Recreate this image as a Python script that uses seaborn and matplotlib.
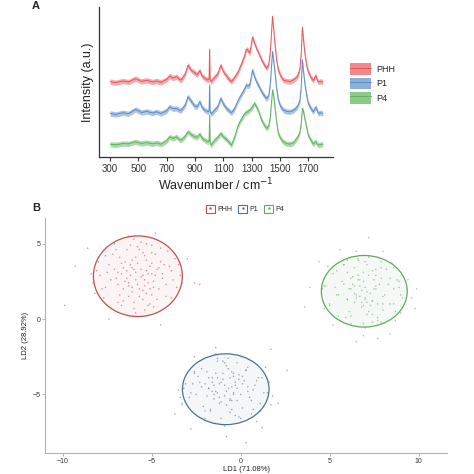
import numpy as np
import pandas as pd
import matplotlib
matplotlib.use("Agg")
import matplotlib.pyplot as plt
import seaborn as sns
from matplotlib.patches import Ellipse, Patch
from matplotlib.lines import Line2D

# ---- data ----
groups = ["PHH", "P1", "P4"]

wavenumber = [300, 340, 390, 430, 480, 520, 560, 600, 626, 660,
              700, 720, 745, 768, 790, 803, 830, 850, 875, 897,
              915, 933, 950, 968, 990, 999, 1003, 1007, 1013, 1039,
              1060, 1082, 1100, 1122, 1140, 1157, 1180, 1205, 1230, 1252,
              1262, 1271, 1287, 1306, 1320, 1334, 1350, 1370, 1390, 1405,
              1420, 1432, 1447, 1456, 1464, 1476, 1488, 1505, 1523, 1545,
              1571, 1595, 1618, 1632, 1641, 1650, 1658, 1666, 1677, 1690,
              1700, 1718, 1736, 1748, 1755, 1763, 1771, 1785, 1802]

phh_int = [2.25, 2.22, 2.27, 2.24, 2.34, 2.26, 2.29, 2.24, 2.27, 2.23,
           2.32, 2.42, 2.36, 2.40, 2.32, 2.30, 2.48, 2.74, 2.58, 2.52,
           2.46, 2.58, 2.42, 2.35, 2.30, 2.32, 3.22, 2.30, 2.25, 2.38,
           2.48, 2.74, 2.55, 2.42, 2.32, 2.25, 2.38, 2.55, 2.80, 3.05,
           3.22, 3.20, 3.10, 3.58, 3.40, 3.25, 3.10, 2.90, 2.75, 2.65,
           2.75, 3.15, 4.20, 3.80, 3.40, 2.90, 2.60, 2.42, 2.30, 2.27,
           2.25, 2.30, 2.38, 2.50, 2.65, 3.10, 3.88, 3.50, 3.05, 2.70,
           2.55, 2.38, 2.28, 2.40, 2.42, 2.30, 2.24, 2.26, 2.24]

p1_int = [1.30, 1.27, 1.32, 1.29, 1.42, 1.33, 1.36, 1.31, 1.35, 1.30,
          1.38, 1.50, 1.44, 1.45, 1.39, 1.40, 1.55, 1.80, 1.65, 1.52,
          1.50, 1.65, 1.48, 1.40, 1.35, 1.37, 2.15, 1.36, 1.28, 1.40,
          1.50, 1.75, 1.58, 1.45, 1.38, 1.32, 1.45, 1.70, 1.88, 2.05,
          2.15, 2.12, 2.15, 2.60, 2.40, 2.25, 2.12, 1.95, 1.82, 1.75,
          1.82, 2.20, 3.15, 2.85, 2.55, 2.05, 1.70, 1.50, 1.40, 1.36,
          1.35, 1.39, 1.48, 1.58, 1.70, 2.10, 2.90, 2.55, 2.15, 1.80,
          1.60, 1.45, 1.35, 1.46, 1.48, 1.38, 1.30, 1.32, 1.30]

p4_int = [0.38, 0.36, 0.40, 0.39, 0.45, 0.40, 0.43, 0.39, 0.42, 0.38,
          0.48, 0.60, 0.55, 0.60, 0.52, 0.50, 0.62, 0.75, 0.66, 0.60,
          0.58, 0.68, 0.56, 0.50, 0.45, 0.46, 1.25, 0.44, 0.35, 0.50,
          0.58, 0.70, 0.60, 0.52, 0.44, 0.35, 0.60, 0.95, 1.15, 1.30,
          1.33, 1.35, 1.40, 1.50, 1.60, 1.50, 1.35, 1.10, 0.95, 0.85,
          0.92, 1.20, 2.00, 1.80, 1.50, 1.05, 0.70, 0.55, 0.45, 0.40,
          0.38, 0.42, 0.55, 0.65, 0.75, 1.00, 1.45, 1.35, 1.10, 0.85,
          0.65, 0.50, 0.38, 0.45, 0.45, 0.38, 0.35, 0.37, 0.38]

band_sd = [0.08, 0.08, 0.08]

# LDA scores (estimated)
phh_ld1 = [-5.9, -5.4, -6.3, -5.1, -6.6, -5.7, -4.8, -6.1, -5.3, -7.0, -4.5, -6.8, -5.5, -4.2, -7.4,
           -6.0, -5.0, -7.6, -3.9, -6.4, -4.7, -7.2, -5.6, -6.2, -5.2, -5.8, -4.9, -6.5, -5.0, -6.9,
           -4.4, -7.9, -3.6, -8.0, -5.4, -6.7, -3.7, -4.1, -7.7, -6.0, -5.3, -8.3, -3.4, -5.9, -6.1,
           -5.5, -4.6, -6.6, -2.6, -9.3, -9.9, -7.4, -4.5, -2.3, -4.8, -8.6, -3.0, -7.1, -6.3, -5.1,
           -5.6, -6.0, -5.2, -6.4, -5.8, -5.0, -6.2, -5.5, -6.7, -4.9, -5.9, -6.3, -5.3, -5.7, -6.1,
           -4.7, -6.9, -5.4, -5.1, -6.5, -4.4, -7.1, -5.8, -6.6, -4.8, -5.0, -6.0, -7.3, -4.3, -5.6,
           -6.8, -5.2, -4.6, -7.5, -3.8, -6.2, -5.5, -4.0, -7.8, -5.9, -6.4, -3.5, -8.1, -5.7, -4.9,
           -6.9, -3.3, -8.4, -5.3, -6.1, -4.2, -7.0, -5.0, -6.7, -4.5, -7.6, -3.9, -5.4, -8.2, -6.3]
phh_ld2 = [3.1, 2.6, 2.2, 3.5, 3.4, 2.0, 2.9, 3.9, 1.7, 2.7, 3.8, 1.6, 4.4, 2.3, 3.6,
           1.1, 4.9, 2.1, 3.2, 4.6, 1.3, 4.3, 3.3, 2.9, 2.4, 3.7, 2.1, 2.5, 3.0, 3.1,
           2.7, 2.9, 2.1, 3.8, 0.6, 0.9, 4.0, 4.5, 1.4, 5.3, 5.0, 2.4, 2.9, 2.6, 3.4,
           2.9, 3.4, 2.0, 2.4, 3.5, 0.9, 0.0, -0.4, 2.3, 5.7, 4.7, 4.0, 5.0, 1.5, 1.0,
           2.8, 3.3, 3.0, 2.7, 2.3, 3.7, 3.6, 1.9, 3.0, 2.5, 4.1, 2.4, 3.9, 1.5, 2.1,
           3.3, 2.3, 4.2, 2.0, 3.8, 3.0, 3.3, 4.8, 1.2, 4.3, 1.6, 0.7, 2.6, 3.6, 5.1,
           4.1, 0.9, 2.0, 3.1, 2.6, 4.9, 1.3, 3.5, 2.0, 0.4, 3.2, 3.6, 3.2, 4.6, 0.8,
           1.1, 2.4, 3.0, 3.2, 1.8, 1.5, 4.6, 4.4, 3.7, 4.7, 4.2, 1.4, 2.2, 1.7, 5.5]

p1_ld1 = [-0.9, -0.4, -1.3, -0.6, -1.6, -0.2, -1.1, 0.2, -1.9, -0.7, 0.5, -2.2, -0.5, 0.8, -1.4,
          -2.4, 0.3, -1.7, 1.1, -0.1, -2.8, 1.2, -1.0, -2.1, 0.6, -0.8, -1.2, -0.3, -1.5, 0.0,
          -0.6, -1.8, 0.4, -2.6, 1.5, -3.1, 1.4, -1.3, -2.0, -0.2, 0.9, -3.3, 1.7, -0.9, -1.0,
          -0.5, -1.6, 0.1, 2.6, -3.7, -0.8, 0.3, -2.6, -3.4, 1.7, 2.1, -1.4, -2.8, 1.2, -0.4,
          -0.7, -1.1, -0.3, -1.4, -0.9, -0.1, -1.3, -0.6, -1.8, 0.1, -1.0, -1.5, -0.4, -0.8, -1.2,
          0.4, -2.0, -0.5, -0.2, -1.6, 0.7, -2.3, -0.9, -1.7, 0.3, 0.1, -1.1, -2.5, 0.9, -0.7,
          -1.9, -0.3, 0.6, -2.7, 1.3, -1.3, -0.6, 1.0, -2.9, -1.0, -1.5, 1.6, -3.2, -0.8, 0.0,
          -2.0, 1.8, -3.5, -0.4, -1.2, 0.7, -2.2, -0.1, -1.8, 0.4, -2.6, 1.1, -0.5, -3.3, -1.4]
p1_ld2 = [-4.4, -5.0, -4.9, -3.9, -4.2, -4.6, -5.5, -4.1, -5.1, -3.3, -5.2, -4.5, -6.0, -4.4, -3.6,
          -3.8, -3.4, -6.1, -5.6, -6.5, -4.9, -3.9, -2.8, -5.8, -6.3, -4.8, -4.3, -4.2, -5.3, -5.0,
          -5.4, -4.6, -4.8, -3.5, -4.9, -4.3, -3.2, -2.6, -6.6, -2.9, -6.8, -5.6, -5.7, -7.1, -4.0,
          -4.5, -4.8, -3.8, -3.4, -6.3, -7.8, -8.2, -2.5, -5.2, -2.0, -5.6, -1.9, -7.3, -7.2, -3.6,
          -4.6, -4.2, -4.4, -4.8, -5.1, -4.0, -3.9, -5.3, -4.6, -4.3, -3.6, -5.0, -3.8, -5.7, -5.2,
          -4.5, -4.3, -3.5, -5.4, -3.9, -4.7, -4.2, -2.9, -6.0, -3.4, -5.9, -6.6, -5.0, -4.1, -2.6,
          -3.5, -6.4, -5.4, -4.3, -4.9, -2.8, -6.2, -3.9, -5.2, -7.0, -4.4, -4.2, -4.6, -3.1, -6.6,
          -6.1, -5.1, -4.7, -4.9, -5.6, -6.0, -3.3, -3.7, -3.9, -3.2, -3.6, -6.1, -5.4, -5.7, -2.3]

p4_ld1 = [7.0, 6.5, 7.4, 6.7, 7.8, 6.2, 7.2, 6.0, 8.1, 6.9, 5.7, 7.6, 6.4, 8.4, 5.4,
          7.1, 8.6, 6.1, 5.2, 7.9, 6.6, 8.9, 5.0, 7.4, 6.8, 7.3, 6.3, 7.6, 6.9, 7.0,
          6.4, 8.0, 5.8, 8.6, 5.5, 6.0, 7.7, 4.8, 9.1, 6.2, 7.2, 8.7, 4.9, 5.2, 6.7,
          7.5, 6.6, 7.1, 4.4, 9.9, 3.6, 6.5, 7.7, 7.2, 8.0, 5.6, 3.9, 9.8, 8.4, 6.9,
          7.1, 6.7, 7.5, 6.4, 7.0, 7.9, 6.6, 7.3, 6.1, 8.0, 6.9, 6.5, 7.6, 7.2, 6.8,
          8.3, 6.0, 7.4, 7.7, 6.3, 8.6, 5.8, 7.0, 6.2, 8.2, 8.0, 6.9, 5.5, 8.8, 7.2,
          6.0, 7.7, 8.4, 5.3, 9.0, 6.6, 7.4, 8.9, 5.0, 7.0, 6.4, 9.4, 4.7, 7.1, 7.9,
          5.9, 9.6, 4.6, 7.6, 6.8, 8.7, 5.8, 7.9, 6.2, 8.5, 5.4, 9.0, 7.4, 4.7, 6.5]
p4_ld2 = [2.1, 1.6, 1.2, 2.6, 2.3, 2.0, 2.9, 1.3, 1.6, 0.9, 2.5, 3.3, 3.4, 2.7, 1.6,
          0.3, 1.0, 0.5, 3.0, 3.8, 4.0, 2.1, 0.9, -0.2, 1.9, 1.7, 2.3, 2.0, 2.5, 1.4,
          1.1, 1.0, 3.6, 3.4, 0.2, 3.9, 0.1, 2.2, 1.4, -0.3, 4.2, -0.1, 3.5, -0.4, 1.5,
          2.6, 2.9, 1.1, 3.8, 2.0, 0.8, -1.5, -1.3, 5.4, 4.5, 4.6, 2.1, 0.7, -1.0, -1.1,
          1.8, 2.2, 2.0, 1.7, 1.3, 2.7, 2.6, 0.9, 2.0, 1.5, 3.1, 1.4, 2.9, 0.5, 1.1,
          2.3, 1.3, 3.2, 1.0, 2.8, 2.0, 2.3, 3.8, 0.2, 3.3, 0.6, -0.3, 1.6, 2.6, 4.1,
          3.1, -0.1, 1.0, 2.1, 1.6, 3.9, 0.3, 2.5, 1.0, -0.6, 2.2, 2.6, 2.2, 3.6, -0.2,
          0.1, 1.4, 2.0, 2.2, 0.8, 0.5, 3.6, 3.4, 2.7, 3.7, 3.2, 0.4, 1.2, 0.7, 4.5]

# 95% ellipses (centre, full width, full height)
ell_x = [-5.78, -0.84, 6.95]
ell_y = [2.84, -4.66, 1.84]
ell_w = [5.0, 4.87, 4.83]
ell_h = [5.35, 4.70, 4.75]

# ---- styling ----
sns.set_style("ticks")
plt.rcParams['font.family'] = ['Liberation Sans', 'DejaVu Sans']

line_cols = ["#E8575A", "#5B8DC6", "#5DB55D"]
ell_cols = ["#C0504D", "#4F7193", "#63A863"]

spec = pd.DataFrame({
    "wavenumber": wavenumber * 3,
    "intensity": phh_int + p1_int + p4_int,
    "group": ["PHH"] * len(wavenumber) + ["P1"] * len(wavenumber) + ["P4"] * len(wavenumber),
})
scores = pd.DataFrame({
    "LD1": phh_ld1 + p1_ld1 + p4_ld1,
    "LD2": phh_ld2 + p1_ld2 + p4_ld2,
    "group": ["PHH"] * len(phh_ld1) + ["P1"] * len(p1_ld1) + ["P4"] * len(p4_ld1),
})

fig = plt.figure(figsize=(4.74, 4.74), dpi=100)
axA = fig.add_axes([0.209, 0.669, 0.494, 0.316])
axB = fig.add_axes([0.095, 0.044, 0.848, 0.496])

# ---- panel A: spectra ----
for g, c, sd in zip(groups, line_cols, band_sd):
    sub = spec[spec.group == g]
    axA.fill_between(sub.wavenumber, sub.intensity - sd, sub.intensity + sd,
                     color=c, alpha=0.5, lw=0)
sns.lineplot(data=spec, x="wavenumber", y="intensity", hue="group",
             hue_order=groups, palette=line_cols, lw=0.7, errorbar=None,
             legend=False, ax=axA)
axA.set_xlim(222, 1876)
axA.set_ylim(0, 4.48)
axA.set_xticks(range(300, 1701, 200))
axA.set_yticks([])
axA.tick_params(axis='x', labelsize=7, colors='#333333', length=3, width=0.8, pad=2)
axA.set_xlabel("Wavenumber / cm$^{-1}$", fontsize=9, color='#222222', labelpad=2)
axA.set_ylabel("Intensity (a.u.)", fontsize=9, color='#222222', labelpad=4)
sns.despine(ax=axA)
for s in ["left", "bottom"]:
    axA.spines[s].set_color('#333333')
    axA.spines[s].set_linewidth(0.9)

handlesA = [(Patch(facecolor=c, alpha=0.7, lw=0), Line2D([], [], color=c, lw=0.7))
            for c in line_cols]
fig.legend(handlesA, groups, loc='upper left', bbox_to_anchor=(0.728, 0.876),
           frameon=False, fontsize=6.5, handlelength=2.4, handleheight=1.6,
           labelspacing=0.3, handletextpad=0.6, borderpad=0)

# ---- panel B: LDA scores ----
for x, y, w, h, c in zip(ell_x, ell_y, ell_w, ell_h, ell_cols):
    axB.add_patch(Ellipse((x, y), w, h, facecolor=c, alpha=0.06, lw=0))
    axB.add_patch(Ellipse((x, y), w, h, facecolor='none', edgecolor=c, lw=0.9))
sns.scatterplot(data=scores, x="LD1", y="LD2", hue="group", hue_order=groups,
                palette=ell_cols, s=1.2, alpha=0.6, linewidth=0, legend=False, ax=axB)
axB.set_xlim(-11.0, 11.6)
axB.set_ylim(-8.9, 6.7)
axB.set_xticks([-10, -5, 0, 5, 10])
axB.set_yticks([-5, 0, 5])
axB.tick_params(labelsize=5, colors='#333333', length=2, width=0.6, pad=1.5)
axB.tick_params(color='#aaaaaa')
axB.set_xlabel("LD1 (71.08%)", fontsize=5.5, color='#222222', labelpad=1)
axB.set_ylabel("LD2 (28.92%)", fontsize=5.5, color='#222222', labelpad=2)
sns.despine(ax=axB)
for s in ["left", "bottom"]:
    axB.spines[s].set_color('#b0b0b0')
    axB.spines[s].set_linewidth(0.8)

handlesB = [(Patch(facecolor='white', edgecolor=c, lw=0.8),
             Line2D([], [], color=c, marker='.', ms=1.5, lw=0)) for c in ell_cols]
fig.legend(handlesB, groups, loc='center', bbox_to_anchor=(0.517, 0.559), ncol=3,
           frameon=False, fontsize=5, handlelength=1.3, handleheight=1.3,
           handletextpad=0.4, columnspacing=0.8, borderpad=0)

fig.text(32 / 474, 1 - 6 / 474, "A", fontsize=8, fontweight='bold', va='center')
fig.text(32 / 474, 1 - 208 / 474, "B", fontsize=8, fontweight='bold', va='center')

fig.savefig("out.png", dpi=100)
